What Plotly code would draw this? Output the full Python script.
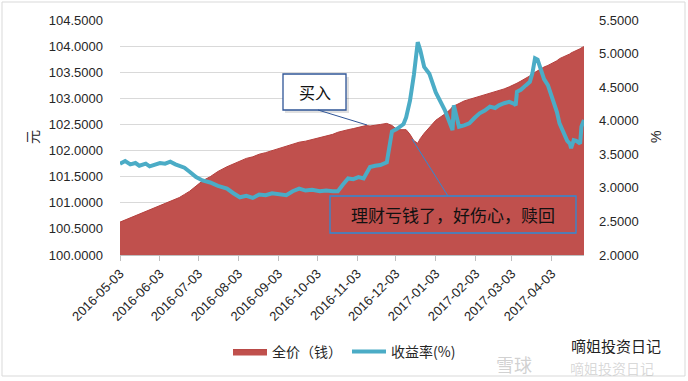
import plotly.graph_objects as go

dates = [
    "2016-05-03", "2016-05-07", "2016-05-11", "2016-05-15", "2016-05-18", "2016-05-23", "2016-05-26", "2016-05-30",
    "2016-06-03", "2016-06-07", "2016-06-11", "2016-06-15", "2016-06-18", "2016-06-22", "2016-06-26",
    "2016-07-01", "2016-07-06", "2016-07-12", "2016-07-18", "2016-07-25", "2016-07-30",
    "2016-08-04", "2016-08-09", "2016-08-14", "2016-08-19", "2016-08-24", "2016-08-29",
    "2016-09-04", "2016-09-09", "2016-09-14", "2016-09-19", "2016-09-24", "2016-09-29",
    "2016-10-05", "2016-10-10", "2016-10-15", "2016-10-19", "2016-10-23", "2016-10-27", "2016-10-31",
    "2016-11-04", "2016-11-08", "2016-11-10", "2016-11-13", "2016-11-17", "2016-11-21", "2016-11-26", "2016-11-27", "2016-11-30",
    "2016-12-04", "2016-12-09", "2016-12-11", "2016-12-14", "2016-12-17", "2016-12-20", "2016-12-22", "2016-12-25", "2016-12-29",
    "2017-01-03", "2017-01-10", "2017-01-14", "2017-01-16", "2017-01-17", "2017-01-19", "2017-01-21", "2017-01-25", "2017-01-29",
    "2017-02-02", "2017-02-06", "2017-02-10", "2017-02-14", "2017-02-18", "2017-02-21", "2017-02-25",
    "2017-03-01", "2017-03-05", "2017-03-06", "2017-03-07", "2017-03-10", "2017-03-14", "2017-03-17", "2017-03-19",
    "2017-03-21", "2017-03-23", "2017-03-26", "2017-03-28", "2017-03-31",
    "2017-04-04", "2017-04-07", "2017-04-09", "2017-04-13", "2017-04-15", "2017-04-17", "2017-04-18", "2017-04-20",
    "2017-04-22", "2017-04-25", "2017-04-26", "2017-04-28",
]

full_price = [
    100.63, 100.67, 100.72, 100.75, 100.79, 100.84, 100.87, 100.91,
    100.95, 100.98, 101.02, 101.06, 101.10, 101.16, 101.22,
    101.32, 101.42, 101.50, 101.60, 101.69, 101.74,
    101.80, 101.85, 101.88, 101.93, 101.96, 102.00,
    102.05, 102.09, 102.12, 102.16, 102.18, 102.21,
    102.24, 102.28, 102.31, 102.35, 102.38, 102.40, 102.42,
    102.44, 102.46, 102.48, 102.47, 102.49, 102.50, 102.52, 102.51, 102.48,
    102.40, 102.41, 102.40, 102.31, 102.19, 102.14, 102.23, 102.33, 102.45,
    102.58, 102.70, 102.78, 102.84, 102.85, 102.87, 102.90, 102.95, 102.98,
    103.01, 103.04, 103.07, 103.10, 103.12, 103.15, 103.18,
    103.22, 103.26, 103.27, 103.29, 103.33, 103.38, 103.43, 103.47,
    103.50, 103.54, 103.57, 103.60, 103.63,
    103.68, 103.72, 103.76, 103.80, 103.83, 103.85, 103.87, 103.89,
    103.92, 103.95, 103.97, 103.99,
]

yield_rate = [
    3.36, 3.40, 3.35, 3.37, 3.33, 3.36, 3.32, 3.34,
    3.37, 3.36, 3.39, 3.35, 3.33, 3.30, 3.24,
    3.16, 3.11, 3.08, 3.03, 2.99, 2.92,
    2.86, 2.88, 2.85, 2.90, 2.89, 2.92,
    2.90, 2.89, 2.95, 2.99, 2.96, 2.97,
    2.95, 2.96, 2.95, 2.95, 3.05, 3.14, 3.13,
    3.16, 3.14, 3.21, 3.31, 3.33, 3.34, 3.38, 3.48, 3.84,
    3.88, 3.95, 4.05, 4.30, 4.68, 5.17, 5.05, 4.80, 4.70,
    4.42, 4.16, 3.98, 3.86, 4.23, 4.08, 3.91, 3.93, 3.96,
    4.04, 4.11, 4.15, 4.21, 4.19, 4.23, 4.26,
    4.28, 4.25, 4.23, 4.43, 4.46, 4.53, 4.58, 4.71,
    4.93, 4.91, 4.73, 4.62, 4.53,
    4.31, 4.13, 3.96, 3.76, 3.70, 3.66, 3.59, 3.71,
    3.70, 3.66, 3.91, 4.01,
]

tick_dates = ["2016-05-03", "2016-06-03", "2016-07-03", "2016-08-03", "2016-09-03", "2016-10-03",
              "2016-11-03", "2016-12-03", "2017-01-03", "2017-02-03", "2017-03-03", "2017-04-03"]

left_ticks = [100.0, 100.5, 101.0, 101.5, 102.0, 102.5, 103.0, 103.5, 104.0, 104.5]
right_ticks = [2.0, 2.5, 3.0, 3.5, 4.0, 4.5, 5.0, 5.5]

TICK_FONT = dict(family="Liberation Sans, Arial, sans-serif", size=13, color="#262626")
CJK = "Noto Sans CJK SC, sans-serif"

fig = go.Figure()
fig.add_trace(go.Scatter(
    x=dates, y=full_price, name="全价（钱）", mode="lines",
    fill="tozeroy", fillcolor="#C0504D",
    line=dict(color="#B5403D", width=1), yaxis="y",
))
fig.add_trace(go.Scatter(
    x=dates, y=yield_rate, name="收益率(%)", mode="lines",
    line=dict(color="#4BACC6", width=4), yaxis="y2",
))

# pixel -> paper helpers for decoration placement
L, R, T, B = 120, 584, 20, 255
def px(x):
    return (x - L) / (R - L)
def py(y):
    return (B - y) / (B - T)

shapes = [
    dict(type="rect", xref="paper", yref="paper", x0=px(2), x1=px(685), y0=py(376), y1=py(2),
         line=dict(color="#D9D9D9", width=1), layer="below"),
    dict(type="rect", xref="paper", yref="paper", x0=px(285), x1=px(349), y0=py(113), y1=py(77),
         line=dict(width=0), fillcolor="rgba(0,0,0,0.12)"),
    dict(type="rect", xref="paper", yref="paper", x0=px(283), x1=px(346), y0=py(110), y1=py(74),
         line=dict(color="#2F5597", width=1.3), fillcolor="white"),
    dict(type="line", xref="paper", yref="paper", x0=px(318), y0=py(110), x1=px(367), y1=py(125),
         line=dict(color="#2F5597", width=1)),
    dict(type="rect", xref="paper", yref="paper", x0=px(330), x1=px(576), y0=py(233), y1=py(196),
         line=dict(color="#2E8BD6", width=1.3), fillcolor="rgba(0,0,0,0)"),
    dict(type="line", xref="paper", yref="paper", x0=px(448), y0=py(196), x1=px(412), y1=py(139),
         line=dict(color="#2E8BD6", width=1)),
]

def note(text, x, y, size, color="#111111", family=CJK, angle=0):
    return dict(text=text, xref="paper", yref="paper", x=px(x), y=py(y), showarrow=False,
                xanchor="center", yanchor="middle", textangle=angle,
                font=dict(family=family, size=size, color=color))

annotations = [
    note("买入", 314.5, 92, 16),
    note("理财亏钱了，好伤心，赎回", 453, 214.5, 17),
    note("元", 32, 137, 14, "#262626", angle=-90),
    note("%", 656, 137, 14, "#262626", "Liberation Sans, Arial, sans-serif", angle=-90),
    note("雪球", 514, 364, 18, "rgba(170,170,170,0.55)"),
    note("嘀姐投资日记", 612, 368, 14, "rgba(170,170,170,0.45)"),
    note("嘀姐投资日记", 616, 345, 15, "#222222"),
]

fig.update_layout(
    width=688, height=381,
    margin=dict(l=L, r=688 - R, t=T, b=381 - B, autoexpand=False),
    paper_bgcolor="white", plot_bgcolor="white",
    showlegend=True,
    legend=dict(orientation="h", x=px(228), y=py(352), xanchor="left", yanchor="middle",
                font=dict(family=CJK, size=14, color="#262626"), itemwidth=34,
                tracegroupgap=0, bgcolor="rgba(0,0,0,0)"),
    xaxis=dict(
        type="date", range=["2016-05-03", "2017-04-28"],
        tickmode="array", tickvals=tick_dates, ticktext=tick_dates,
        tickangle=-45, tickfont=TICK_FONT, automargin=False,
        ticks="outside", ticklen=5, tickcolor="#BFBFBF",
        showline=True, linecolor="#BFBFBF", linewidth=1,
        showgrid=False, zeroline=False,
    ),
    yaxis=dict(
        range=[100, 104.5], tickmode="array", tickvals=left_ticks, tickformat=".4f",
        tickfont=TICK_FONT, showgrid=True, gridcolor="#D9D9D9", gridwidth=1, automargin=False,
        zeroline=False, showline=False, ticks="", ticklabelstandoff=16,
    ),
    yaxis2=dict(
        range=[2, 5.5], tickmode="array", tickvals=right_ticks, tickformat=".4f",
        tickfont=TICK_FONT, overlaying="y", side="right", showgrid=False, automargin=False,
        zeroline=False, showline=False, ticks="", ticklabelstandoff=14,
    ),
    shapes=shapes,
    annotations=annotations,
)

fig.write_html("out.html", config={"displayModeBar": False},
               post_script="document.body.style.margin='0';document.body.style.padding='0';")
